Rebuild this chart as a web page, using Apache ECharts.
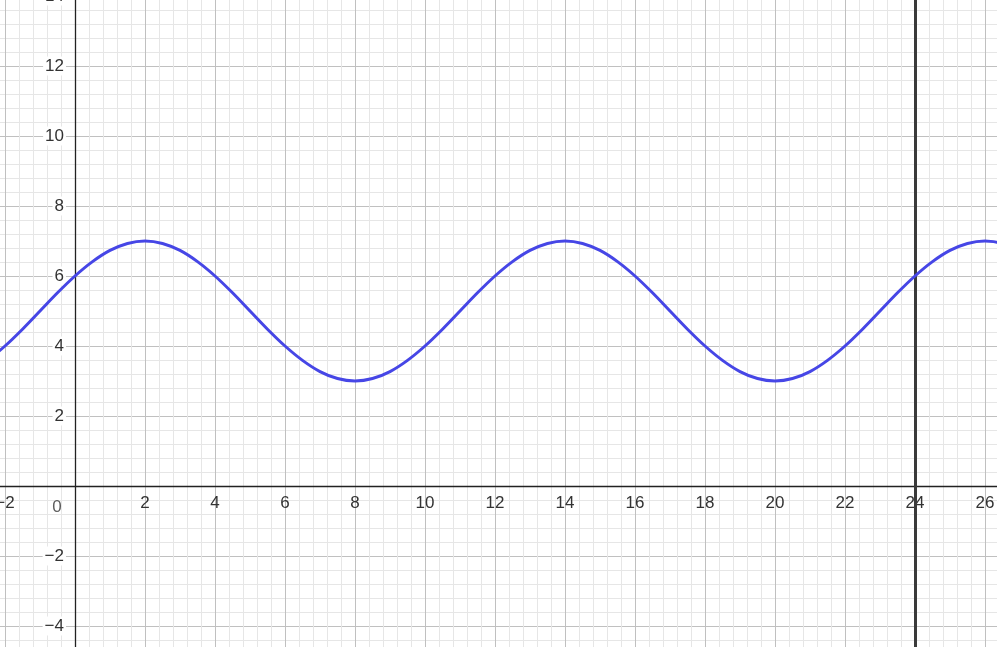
<!DOCTYPE html>
<html>
<head>
<meta charset="utf-8">
<script src="https://cdn.jsdelivr.net/npm/echarts@6/dist/echarts.min.js"></script>
<style>
html,body{margin:0;padding:0;background:#fff;width:997px;height:647px;overflow:hidden;position:relative}
#c{position:absolute;left:-65px;top:-4px;width:1120px;height:700px}
</style>
</head>
<body>
<div id="c"></div>
<script>
// Curve samples (x, y)
const xValues = [-3,-2.5,-2,-1.5,-1,-0.5,0,0.5,1,1.5,2,2.5,3,3.5,4,4.5,5,5.5,6,6.5,7,7.5,8,8.5,9,9.5,10,10.5,11,11.5,12,12.5,13,13.5,14,14.5,15,15.5,16,16.5,17,17.5,18,18.5,19,19.5,20,20.5,21,21.5,22,22.5,23,23.5,24,24.5,25,25.5,26,26.5,27];
const yValues = [3.27,3.59,4,4.48,5,5.52,6,6.41,6.73,6.93,7,6.93,6.73,6.41,6,5.52,5,4.48,4,3.59,3.27,3.07,3,3.07,3.27,3.59,4,4.48,5,5.52,6,6.41,6.73,6.93,7,6.93,6.73,6.41,6,5.52,5,4.48,4,3.59,3.27,3.07,3,3.07,3.27,3.59,4,4.48,5,5.52,6,6.41,6.73,6.93,7,6.93,6.73];
const verticalLineX = [24];
const xTickLabels = [-2, 2, 4, 6, 8, 10, 12, 14, 16, 18, 20, 22, 24, 26];
const yTickLabels = [-4, -2, 2, 4, 6, 8, 10, 12, 14];
const originLabel = ['0'];

const fmt = v => String(v).replace('-', '\u2212');
const font = 'Liberation Sans, Arial, sans-serif';

const chart = echarts.init(document.getElementById('c'));
chart.setOption({
  animation: false,
  backgroundColor: '#ffffff',
  grid: { left: 0, right: 0, top: 0, bottom: 0, containLabel: false, outerBoundsMode: 'none' },
  xAxis: {
    type: 'value', min: -4, max: 28, interval: 2,
    position: 'bottom', offset: -210,
    axisLine: { onZero: false, lineStyle: { color: '#222', width: 1.3 } },
    axisTick: { show: false },
    axisLabel: { customValues: xTickLabels, formatter: fmt, color: '#333', fontSize: 17, fontFamily: font, margin: 9,
      showMinLabel: true, showMaxLabel: true, hideOverlap: false },
    splitLine: { show: true, lineStyle: { color: '#c0c0c0', width: 1, type: 'solid' } },
    minorTick: { show: false, splitNumber: 5 },
    minorSplitLine: { show: true, lineStyle: { color: '#e6e6e6', width: 1, type: 'solid' } }
  },
  yAxis: {
    type: 'value', min: -6, max: 14, interval: 2,
    position: 'left', offset: -140,
    axisLine: { onZero: false, lineStyle: { color: '#222', width: 1.3 } },
    axisTick: { show: false },
    axisLabel: { customValues: yTickLabels, formatter: fmt, color: '#333', fontSize: 17, fontFamily: font, margin: 9,
      backgroundColor: '#fff', padding: [1, 2], showMinLabel: true, showMaxLabel: true, hideOverlap: false },
    splitLine: { show: true, lineStyle: { color: '#c0c0c0', width: 1, type: 'solid' } },
    minorTick: { show: false, splitNumber: 5 },
    minorSplitLine: { show: true, lineStyle: { color: '#e6e6e6', width: 1, type: 'solid' } }
  },
  series: [
    {
      type: 'line',
      data: xValues.map((x, i) => [x, yValues[i]]),
      smooth: 0.3,
      showSymbol: false,
      lineStyle: { color: '#4646e6', width: 3 },
      clip: true,
      z: 5,
      markLine: {
        silent: true,
        symbol: 'none',
        label: { show: false },
        lineStyle: { color: '#3a3a3a', width: 3, type: 'solid' },
        data: verticalLineX.map(x => ({ xAxis: x }))
      }
    },
    {
      type: 'scatter',
      symbolSize: 0,
      data: [[0, 0]],
      label: {
        show: true, formatter: originLabel[0], position: 'bottom', offset: [-18, 8],
        color: '#333', fontSize: 17, fontFamily: font
      },
      z: 6
    }
  ]
});
</script>
</body>
</html>
